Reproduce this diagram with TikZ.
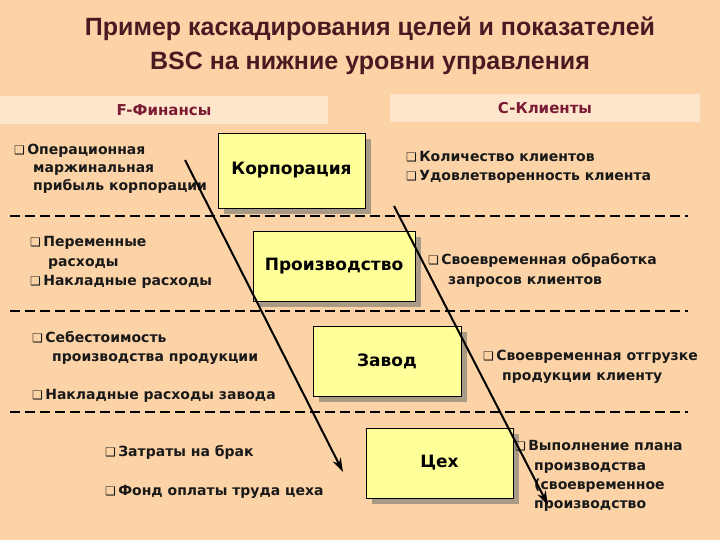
\documentclass[tikz,border=0pt]{standalone}
\usepackage{fontspec}
\setmainfont{Liberation Sans}
\newfontfamily\symf{DejaVu Sans}
\newfontfamily\tah{DejaVu Sans}
\usetikzlibrary{arrows.meta}
\definecolor{bg}{HTML}{FCD3A6}
\definecolor{hdr}{HTML}{FDE6CC}
\definecolor{maroon}{HTML}{7A1B33}
\definecolor{ttl}{HTML}{4A1A22}
\definecolor{ybox}{HTML}{FFFF99}
\definecolor{shd}{HTML}{A99A86}
\newcommand{\bul}{{\symf\fontsize{12}{14}\selectfont ❑}\,}
\tikzset{
  lvl/.style={draw=black, line width=0.8pt, fill=ybox, minimum width=#1, inner sep=0pt, font=\tah\fontsize{17}{20}\bfseries\selectfont},
  itm/.style={anchor=base west, inner sep=0pt, font=\tah\fontsize{14}{17}\bfseries\selectfont, text=black!90},
  hd/.style={fill=hdr, inner sep=0pt, text=maroon, font=\tah\fontsize{15}{18}\bfseries\selectfont},
  dsh/.style={line width=1.4pt, dash pattern=on 10pt off 5pt},
  arr/.style={line width=2pt, -{Stealth[length=14pt,width=9pt]}}
}
\begin{document}
\begin{tikzpicture}[x=1pt,y=-1pt]
\useasboundingbox (0,0) rectangle (720,540);
\clip (0,0) rectangle (720,540);
\fill[bg] (0,0) rectangle (720,540);
\node[text=ttl, font=\fontsize{25}{29}\bfseries\selectfont, align=center] (title) at (370,46) {Пример каскадирования целей и показателей\\[5pt] BSC на нижние уровни управления};
\node[hd, minimum width=328, minimum height=28] (hf) at (164,110) {F-Финансы};
\node[hd, minimum width=310, minimum height=28] (hc) at (545,108) {C-Клиенты};
% dashed separators
\coordinate (d1a) at (10,216); \coordinate (d1b) at (688,216);
\coordinate (d2a) at (10,311); \coordinate (d2b) at (688,311);
\coordinate (d3a) at (10,412); \coordinate (d3b) at (688,412);
\draw[dsh] (d1a) -- (d1b); \draw[dsh] (d2a) -- (d2b); \draw[dsh] (d3a) -- (d3b);
% boxes with shadows
\fill[shd] (224,139) rectangle (371,214);
\node[lvl=147, minimum height=75] (corp) at (291.5,170.5) {Корпорация};
\fill[shd] (259,237) rectangle (421,307);
\node[lvl=162, minimum height=70] (prod) at (334,266) {Производство};
\fill[shd] (319,332) rectangle (467,402);
\node[lvl=148, minimum height=70] (zavod) at (387,361) {Завод};
\fill[shd] (372,434) rectangle (519,504);
\node[lvl=147, minimum height=70] (cekh) at (439.5,463) {Цех};
% texts
\node[itm] (t1) at (14,155) {\bul Операционная};
\node[itm] (t2) at (33,173) {маржинальная};
\node[itm] (t3) at (33,191) {прибыль корпорации};
\node[itm] (t4) at (406,162) {\bul Количество клиентов};
\node[itm] (t5) at (406,181) {\bul Удовлетворенность клиента};
\node[itm] (t6) at (30,247) {\bul Переменные};
\node[itm] (t7) at (48,266) {расходы};
\node[itm] (t8) at (30,285) {\bul Накладные расходы};
\node[itm] (t9) at (428,264) {\bul Своевременная обработка};
\node[itm] (t10) at (448,284) {запросов клиентов};
\node[itm] (t11) at (32,342) {\bul Себестоимость};
\node[itm] (t12) at (52,361) {производства продукции};
\node[itm] (t13) at (32,399) {\bul Накладные расходы завода};
\node[itm] (t14) at (483,360) {\bul Своевременная отгрузке};
\node[itm] (t15) at (502,380) {продукции клиенту};
\node[itm] (t16) at (105,456) {\bul Затраты на брак};
\node[itm] (t17) at (105,495) {\bul Фонд оплаты труда цеха};
\node[itm] (t18) at (515,450) {\bul Выполнение плана};
\node[itm] (t19) at (534,470) {производства};
\node[itm] (t20) at (534,489) {(своевременное};
\node[itm] (t21) at (534,508) {производство};
% arrows
\coordinate (a1s) at (185,160); \coordinate (a1e) at (343,472);
\coordinate (a2s) at (394,206); \coordinate (a2e) at (548,505);
\draw[arr] (a1s) -- (a1e);
\draw[arr] (a2s) -- (a2e);
\end{tikzpicture}
\end{document}
